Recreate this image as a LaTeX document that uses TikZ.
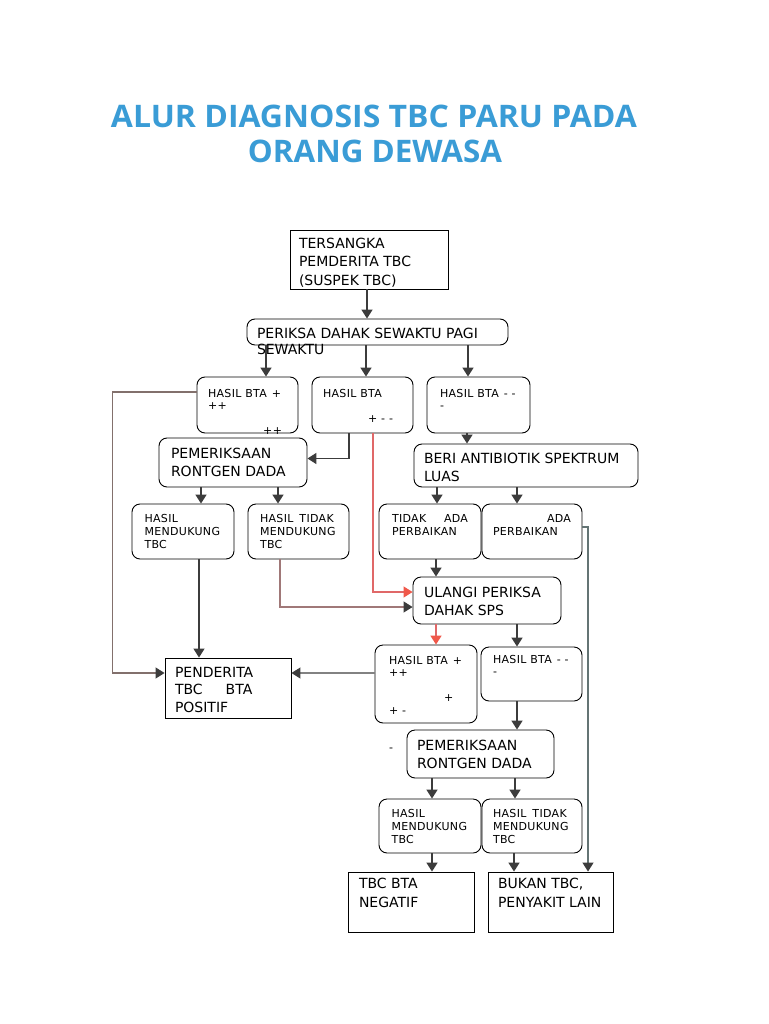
\documentclass[tikz,border=0pt]{standalone}
\usepackage{fontspec}
\usepackage{graphicx}
\setmainfont{DejaVu Sans}
\newfontfamily\titlefont{Open Sans}
\newfontfamily\spacedfont{DejaVu Sans}[LetterSpace=3]
\usetikzlibrary{arrows.meta}
\definecolor{titleblue}{RGB}{58,156,214}
\definecolor{arrgray}{RGB}{60,60,60}
\definecolor{loopcol}{RGB}{130,112,108}
\definecolor{redline}{RGB}{224,104,104}
\definecolor{redtip}{RGB}{240,88,74}
\definecolor{pinkline}{RGB}{160,120,120}
\definecolor{grayline}{RGB}{130,130,130}
\definecolor{tealline}{RGB}{100,116,116}
\newcommand{\boxtext}[3]{\parbox[c][#2][t]{#1}{\raggedright #3}}
\newcommand{\bigtxt}{\fontsize{14}{18.5}\selectfont}
\newcommand{\smtxt}{\spacedfont\fontsize{11}{12.5}\selectfont}
\tikzset{
  sq/.style={draw=black, line width=0.9pt, inner sep=0pt},
  rd/.style={sq, rounded corners=8pt},
  arr/.style={draw=arrgray, line width=1.6pt, -{Triangle[width=11pt,length=9pt]}},
  thinarr/.style={line width=1.1pt, -{Triangle[width=11pt,length=9pt,color=arrgray]}},
}
\begin{document}
\begin{tikzpicture}[x=1pt,y=-1pt]
\useasboundingbox[fill=white] (0,0) rectangle (768,1024);

% title
\node[inner sep=0pt, anchor=base, text=titleblue] (title1) at (374,128)
  {\resizebox{526pt}{22.5pt}{\titlefont\bfseries ALUR DIAGNOSIS TBC PARU PADA}};
\node[inner sep=0pt, anchor=base, text=titleblue] (title2) at (375,163)
  {\resizebox{254pt}{22.5pt}{\titlefont\bfseries ORANG DEWASA}};

% boxes
\node[sq, minimum width=158pt, minimum height=59pt] (A) at (369,259.5)
  {\boxtext{140pt}{43.4pt}{\bigtxt TERSANGKA\\PEMDERITA TBC\\(SUSPEK TBC)}};
\node[rd, minimum width=261pt, minimum height=26pt] (B) at (377.5,332)
  {\boxtext{241pt}{8.4pt}{\fontsize{14}{16}\selectfont PERIKSA DAHAK SEWAKTU PAGI\\SEWAKTU}};

\node[rd, minimum width=101pt, minimum height=56pt] (C1) at (247.5,405)
  {\boxtext{79pt}{32pt}{\smtxt HASIL BTA\hspace{5pt}+\\++\\[12pt]\hspace*{\fill}++\hspace*{5pt}}};
\node[rd, minimum width=101pt, minimum height=56pt] (C2) at (362.5,405)
  {\boxtext{79pt}{32pt}{\smtxt HASIL BTA\\\mbox{}\\\hspace*{\fill}+ - -\hspace*{9pt}}};
\node[rd, minimum width=103pt, minimum height=56pt] (C3) at (478.5,405)
  {\boxtext{77pt}{32pt}{\smtxt HASIL BTA\hspace{5pt}- -\\-}};

\node[rd, minimum width=148pt, minimum height=49pt] (D) at (233,462.5)
  {\boxtext{124pt}{29.4pt}{\bigtxt PEMERIKSAAN\\RONTGEN DADA}};
\node[rd, minimum width=224pt, minimum height=43pt] (E) at (526,465.5)
  {\boxtext{204pt}{25.4pt}{\bigtxt BERI ANTIBIOTIK SPEKTRUM\\LUAS}};

\node[rd, minimum width=102pt, minimum height=55pt] (F1) at (183,531.5)
  {\boxtext{77pt}{35pt}{\smtxt\baselineskip=13pt HASIL\\MENDUKUNG\\TBC}};
\node[rd, minimum width=101pt, minimum height=55pt] (F2) at (298.5,531.5)
  {\boxtext{77pt}{35pt}{\smtxt\baselineskip=13pt HASIL\hspace{6pt}TIDAK\\MENDUKUNG\\TBC}};
\node[rd, minimum width=102pt, minimum height=55pt] (F3) at (430,531.5)
  {\boxtext{76pt}{35pt}{\smtxt\baselineskip=13pt TIDAK\hspace*{\fill}ADA\\PERBAIKAN}};
\node[rd, minimum width=100pt, minimum height=55pt] (F4) at (532,531.5)
  {\boxtext{78pt}{35pt}{\smtxt\baselineskip=13pt \hspace*{\fill}ADA\\PERBAIKAN}};

\node[rd, minimum width=148pt, minimum height=47pt] (G) at (487,600.5)
  {\boxtext{126pt}{27.4pt}{\fontsize{14}{18}\selectfont ULANGI PERIKSA\\DAHAK SPS}};

\node[sq, minimum width=126pt, minimum height=60pt] (H) at (228,688)
  {\boxtext{106pt}{42.4pt}{\fontsize{14}{17.5}\selectfont PENDERITA\\TBC\hspace{23pt}BTA\\POSITIF}};
\node[rd, minimum width=102pt, minimum height=78pt] (I1) at (426,684)
  {\boxtext{74pt}{56pt}{\smtxt HASIL BTA\hspace{5pt}+\\++\\\mbox{}\\\hspace*{55pt}+\\+ -}};
\node[rd, minimum width=101pt, minimum height=54pt] (I2) at (531.5,674)
  {\boxtext{77pt}{38pt}{\smtxt HASIL BTA\hspace{5pt}- -\\-}};

\node[rd, minimum width=147pt, minimum height=48pt] (J) at (480.5,754)
  {\boxtext{127pt}{28.4pt}{\bigtxt PEMERIKSAAN\\RONTGEN DADA}};
\node[inner sep=0pt, font=\fontsize{11}{12}\selectfont] (dash) at (391,750) {-};

\node[rd, minimum width=102pt, minimum height=54pt] (K1) at (430,826)
  {\boxtext{77pt}{34pt}{\smtxt\baselineskip=13pt HASIL\\MENDUKUNG\\TBC}};
\node[rd, minimum width=100pt, minimum height=54pt] (K2) at (532,826)
  {\boxtext{78pt}{34pt}{\smtxt\baselineskip=13pt HASIL\hspace{6pt}TIDAK\\MENDUKUNG\\TBC}};

\node[sq, minimum width=126pt, minimum height=60pt] (L1) at (411,902)
  {\boxtext{104pt}{48.4pt}{\fontsize{14}{19}\selectfont TBC BTA\\NEGATIF}};
\node[sq, minimum width=125pt, minimum height=60pt] (L2) at (550.5,902)
  {\boxtext{105pt}{48.4pt}{\fontsize{14}{19}\selectfont BUKAN TBC,\\PENYAKIT LAIN}};

% connectors
\draw[arr] (A.south -| 367,0) -- (B.north -| 367,0);
\draw[arr] (B.south -| 266,0) -- (C1.north -| 266,0);
\draw[arr] (B.south -| 366,0) -- (C2.north -| 366,0);
\draw[arr] (B.south -| 468,0) -- (C3.north -| 468,0);

\draw[arr] (C2.south -| 349,0) |- ([yshift=4pt]D.east);
\draw[thinarr, draw=redline, -{Triangle[width=11pt,length=9pt,color=redtip]}] (C2.south -| 373,0) |- ([yshift=8.5pt]G.west);
\draw[arr] (C3.south -| 467,0) -- (E.north -| 467,0);

\draw[arr] (D.south -| 201,0) -- (F1.north -| 201,0);
\draw[arr] (D.south -| 278,0) -- (F2.north -| 278,0);
\draw[arr] (E.south -| 437,0) -- (F3.north -| 437,0);
\draw[arr] (E.south -| 517,0) -- (F4.north -| 517,0);

\draw[arr] (F3.south -| 436,0) -- (G.north -| 436,0);
\draw[thinarr, draw=pinkline] (F2.south -| 280,0) |- ([yshift=-6.5pt]G.west);
\draw[arr, line width=1.3pt] (F1.south -| 199,0) -- (H.north -| 199,0);
\draw[thinarr, draw=loopcol] ([yshift=13pt]C1.west) -| ([xshift=-52pt,yshift=15pt]H.west) -- ([yshift=15pt]H.west);
\draw[thinarr, draw=tealline, line width=1.3pt] ([yshift=4.5pt]F4.east) -| ([xshift=37.5pt]L2.north);

\draw[arr, draw=redline, -{Triangle[width=11pt,length=9pt,color=redtip]}] (G.south -| 436,0) -- (I1.north -| 436,0);
\draw[arr] (G.south -| 517,0) -- (I2.north -| 517,0);
\draw[thinarr, draw=grayline] ([yshift=11pt]I1.west) -- ([yshift=15pt]H.east);
\draw[arr] (I2.south -| 517,0) -- (J.north -| 517,0);

\draw[arr] (J.south -| 432,0) -- (K1.north -| 432,0);
\draw[arr] (J.south -| 515,0) -- (K2.north -| 515,0);
\draw[arr] (K1.south -| 432,0) -- (L1.north -| 432,0);
\draw[arr] (K2.south -| 514,0) -- (L2.north -| 514,0);
\end{tikzpicture}
\end{document}
